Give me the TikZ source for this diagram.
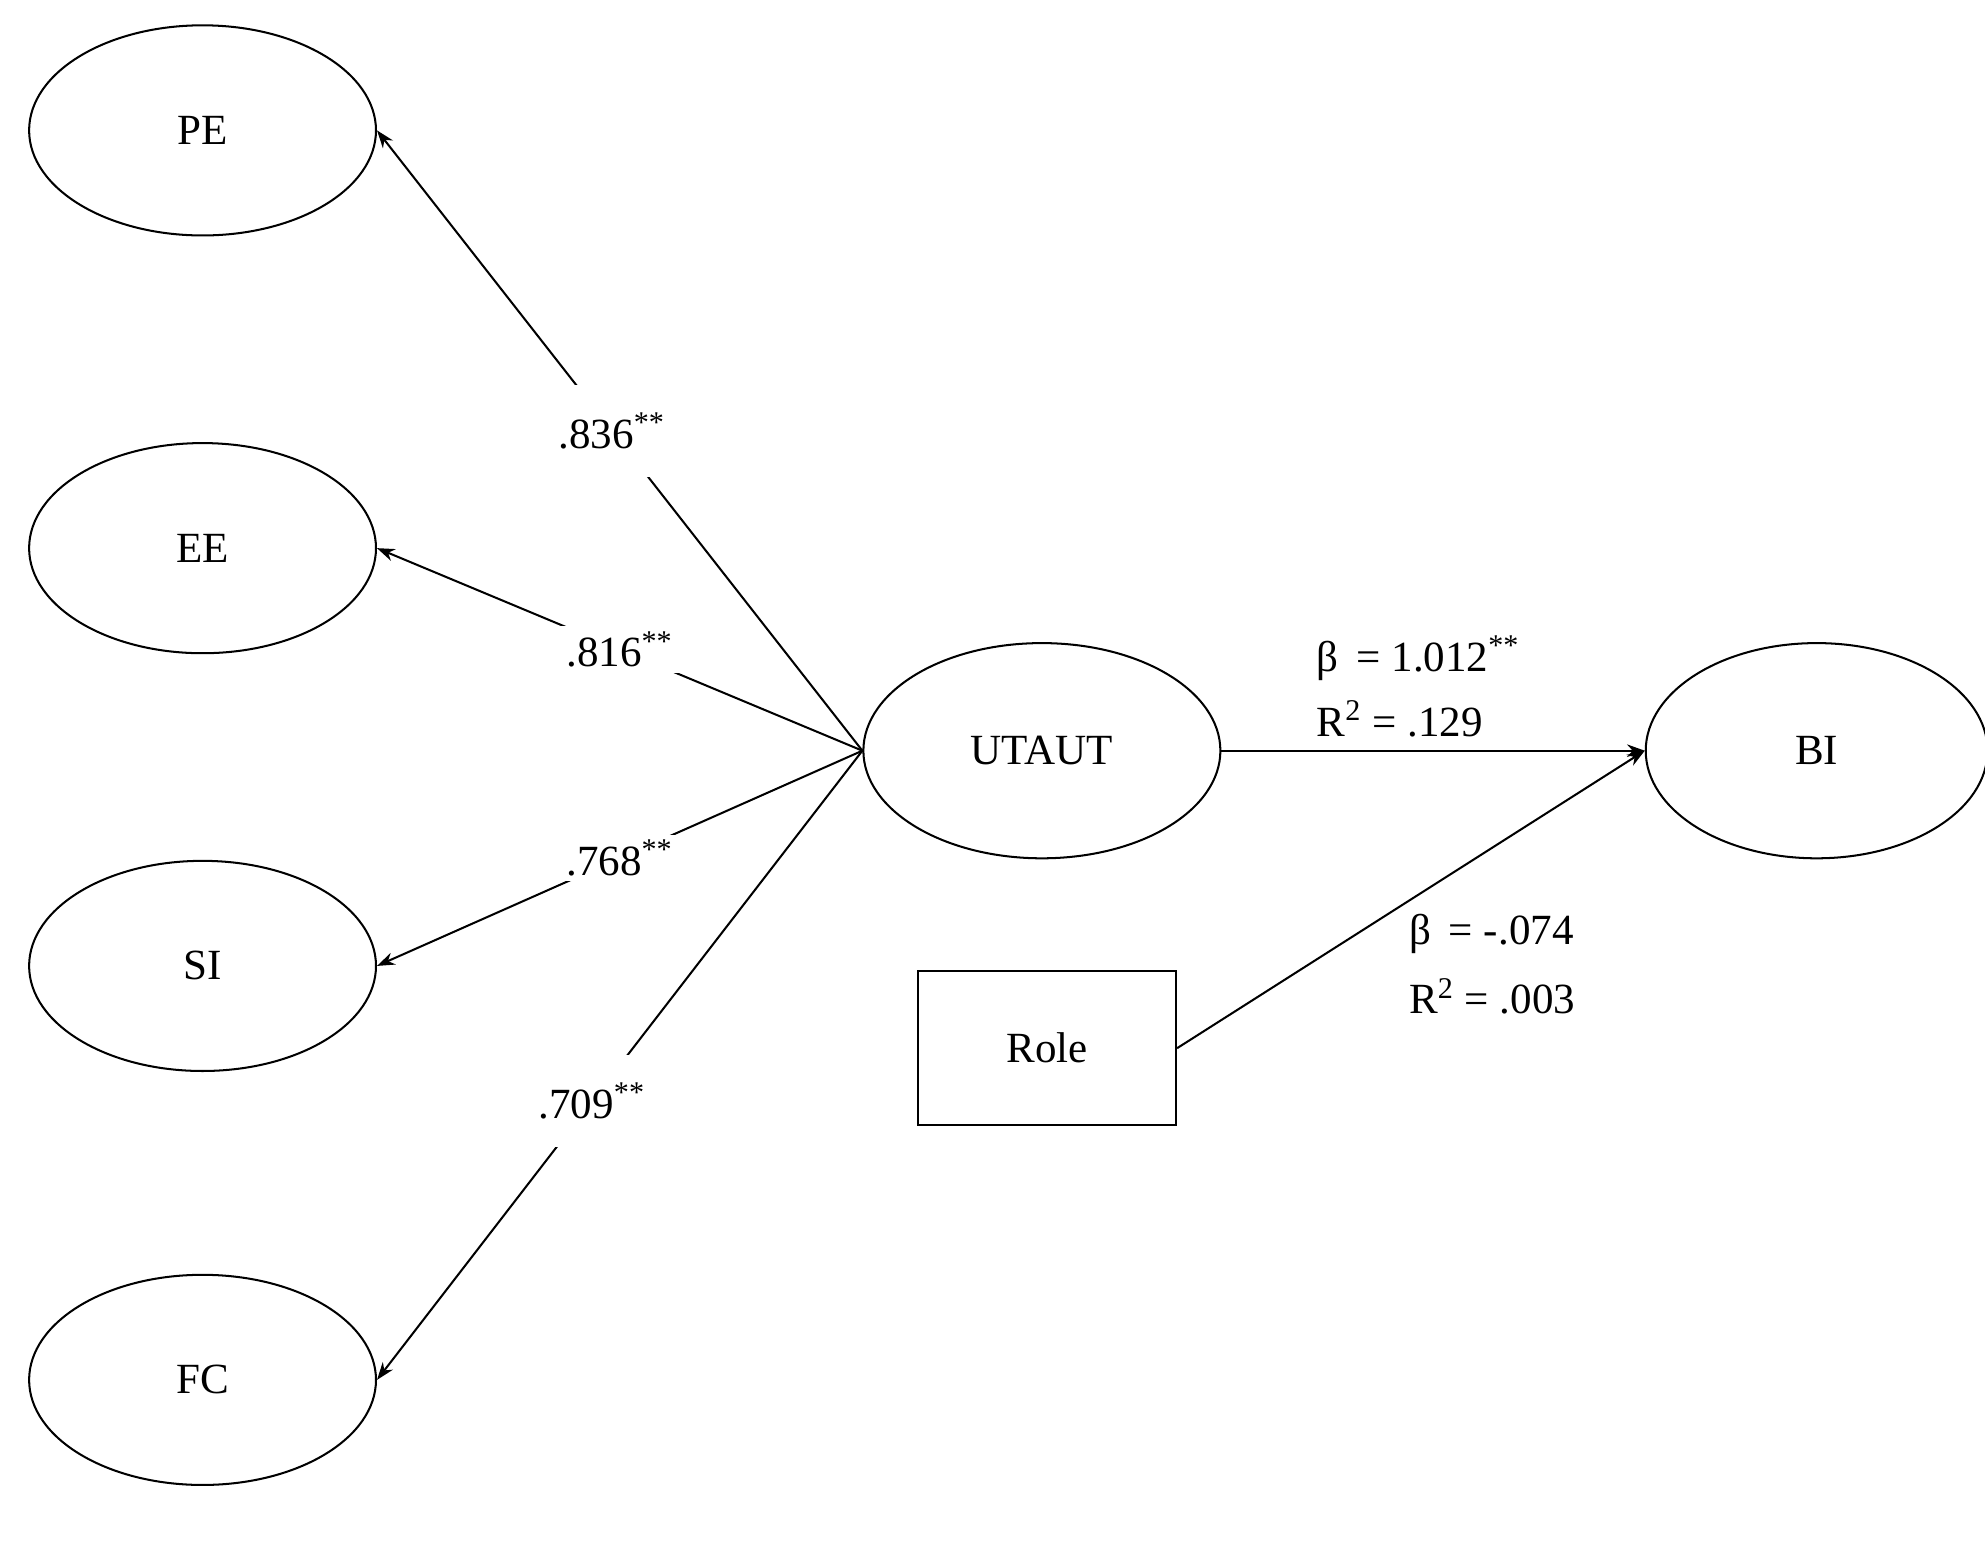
\documentclass[tikz,border=0pt]{standalone}
\usepackage{fontspec}
\setmainfont{Liberation Serif}
\usetikzlibrary{shapes.geometric,arrows.meta}
\begin{document}
\begin{tikzpicture}[x=0.5pt,y=-0.5pt,
  every node/.style={font=\fontsize{17}{20}\selectfont},
  lat/.style={ellipse,draw,line width=0.8pt,minimum width=137pt,minimum height=83pt},
  con/.style={line width=0.8pt,-{Stealth[length=7pt,width=5pt]}},
  lbl/.style={fill=white,inner sep=2pt}]
\useasboundingbox (0,0) rectangle (1568,1235);
\fill[white] (0,0) rectangle (1568,1235);
\node[lat] (PE) at (160,103) {PE};
\node[lat] (EE) at (160,433) {EE};
\node[lat] (SI) at (160,763) {SI};
\node[lat] (FC) at (160,1090) {FC};
\node[lat,minimum width=141pt,minimum height=85pt] (U) at (823,593) {UTAUT};
\node[lat,minimum width=135pt,minimum height=85pt] (BI) at (1435,593) {BI};
\node[draw,line width=0.8pt,minimum width=102pt,minimum height=61pt] (R) at (827,828) {Role};
\draw[con] (U.west) -- node[lbl,pos=0.516,inner ysep=11pt] {.836\textsuperscript{**}} (PE.east);
\draw[con] (U.west) -- node[lbl,pos=0.5,inner xsep=12pt] {.816\textsuperscript{**}} (EE.east);
\draw[con] (U.west) -- node[lbl,pos=0.5,inner xsep=12pt] {.768\textsuperscript{**}} (SI.east);
\draw[con] (U.west) -- node[lbl,pos=0.557,inner ysep=11pt] {.709\textsuperscript{**}} (FC.east);
\draw[con] (U.east) -- (BI.west);
\draw[con] (R.east) -- (BI.west);
\node[anchor=west] (b1) at (1033,520) {β\, = 1.012\textsuperscript{**}};
\node[anchor=west] (r1) at (1033,568) {R\textsuperscript{2} = .129};
\node[anchor=west] (b2) at (1106,738) {β\, = -.074};
\node[anchor=west] (r2) at (1106,787) {R\textsuperscript{2} = .003};
\end{tikzpicture}
\end{document}
